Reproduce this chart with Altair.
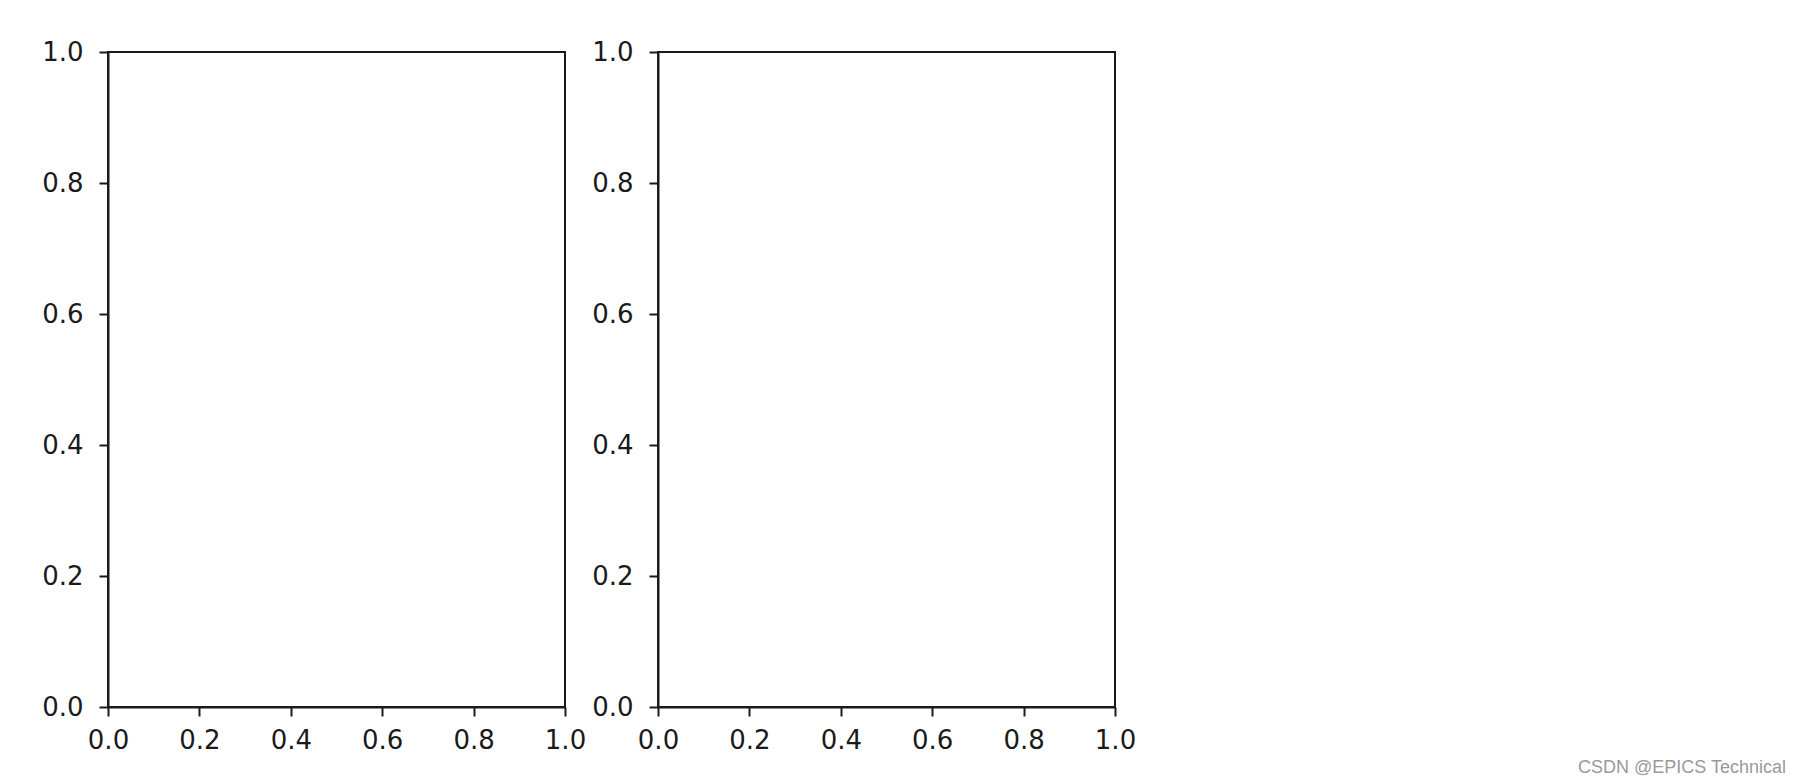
import altair as alt
import pandas as pd

# Axis data (the panels are empty; only the [0, 1] frames are shown)
axis_domain = [0.0, 1.0]
tick_values = [0.0, 0.2, 0.4, 0.6, 0.8, 1.0]
panel_names = ["left", "right"]
watermark = "CSDN @EPICS Technical"

frame = pd.DataFrame({"x": axis_domain, "y": axis_domain})

FONT = "DejaVu Sans"
INK = "#1a1a1a"


def panel(name):
    base = (
        alt.Chart(frame)
        .mark_point(opacity=0)
        .encode(
            x=alt.X(
                "x:Q",
                scale=alt.Scale(domain=axis_domain, nice=False, zero=False),
                axis=alt.Axis(
                    values=tick_values, format=".1f", title=None,
                    labelFlush=False, labelOverlap=False, labelPadding=11,
                ),
            ),
            y=alt.Y(
                "y:Q",
                scale=alt.Scale(domain=axis_domain, nice=False, zero=False),
                axis=alt.Axis(
                    values=tick_values, format=".1f", title=None,
                    labelFlush=False, labelOverlap=False, labelPadding=16,
                ),
            ),
        )
        .properties(width=457, height=655)
    )
    if name == "right":
        base = base.properties(
            title=alt.TitleParams(
                text=watermark, orient="bottom", anchor="end", frame="group",
                font="Liberation Sans", fontSize=18, fontWeight="normal",
                color="#9a9a9a", dx=671, offset=6,
            )
        )
    return base


chart = (
    alt.hconcat(*[panel(n) for n in panel_names], spacing=93, bounds="flush")
    .properties(padding={"left": 32, "top": 30, "right": 5, "bottom": 5})
    .configure(background="white")
    .configure_axis(
        grid=False,
        domainColor=INK, domainWidth=2,
        tickColor=INK, tickWidth=2, tickSize=9,
        labelFont=FONT, labelFontSize=26, labelColor=INK,
    )
    .configure_view(stroke=INK, strokeWidth=2)
)

chart.save("out.html", embed_options={"renderer": "svg", "actions": False})
